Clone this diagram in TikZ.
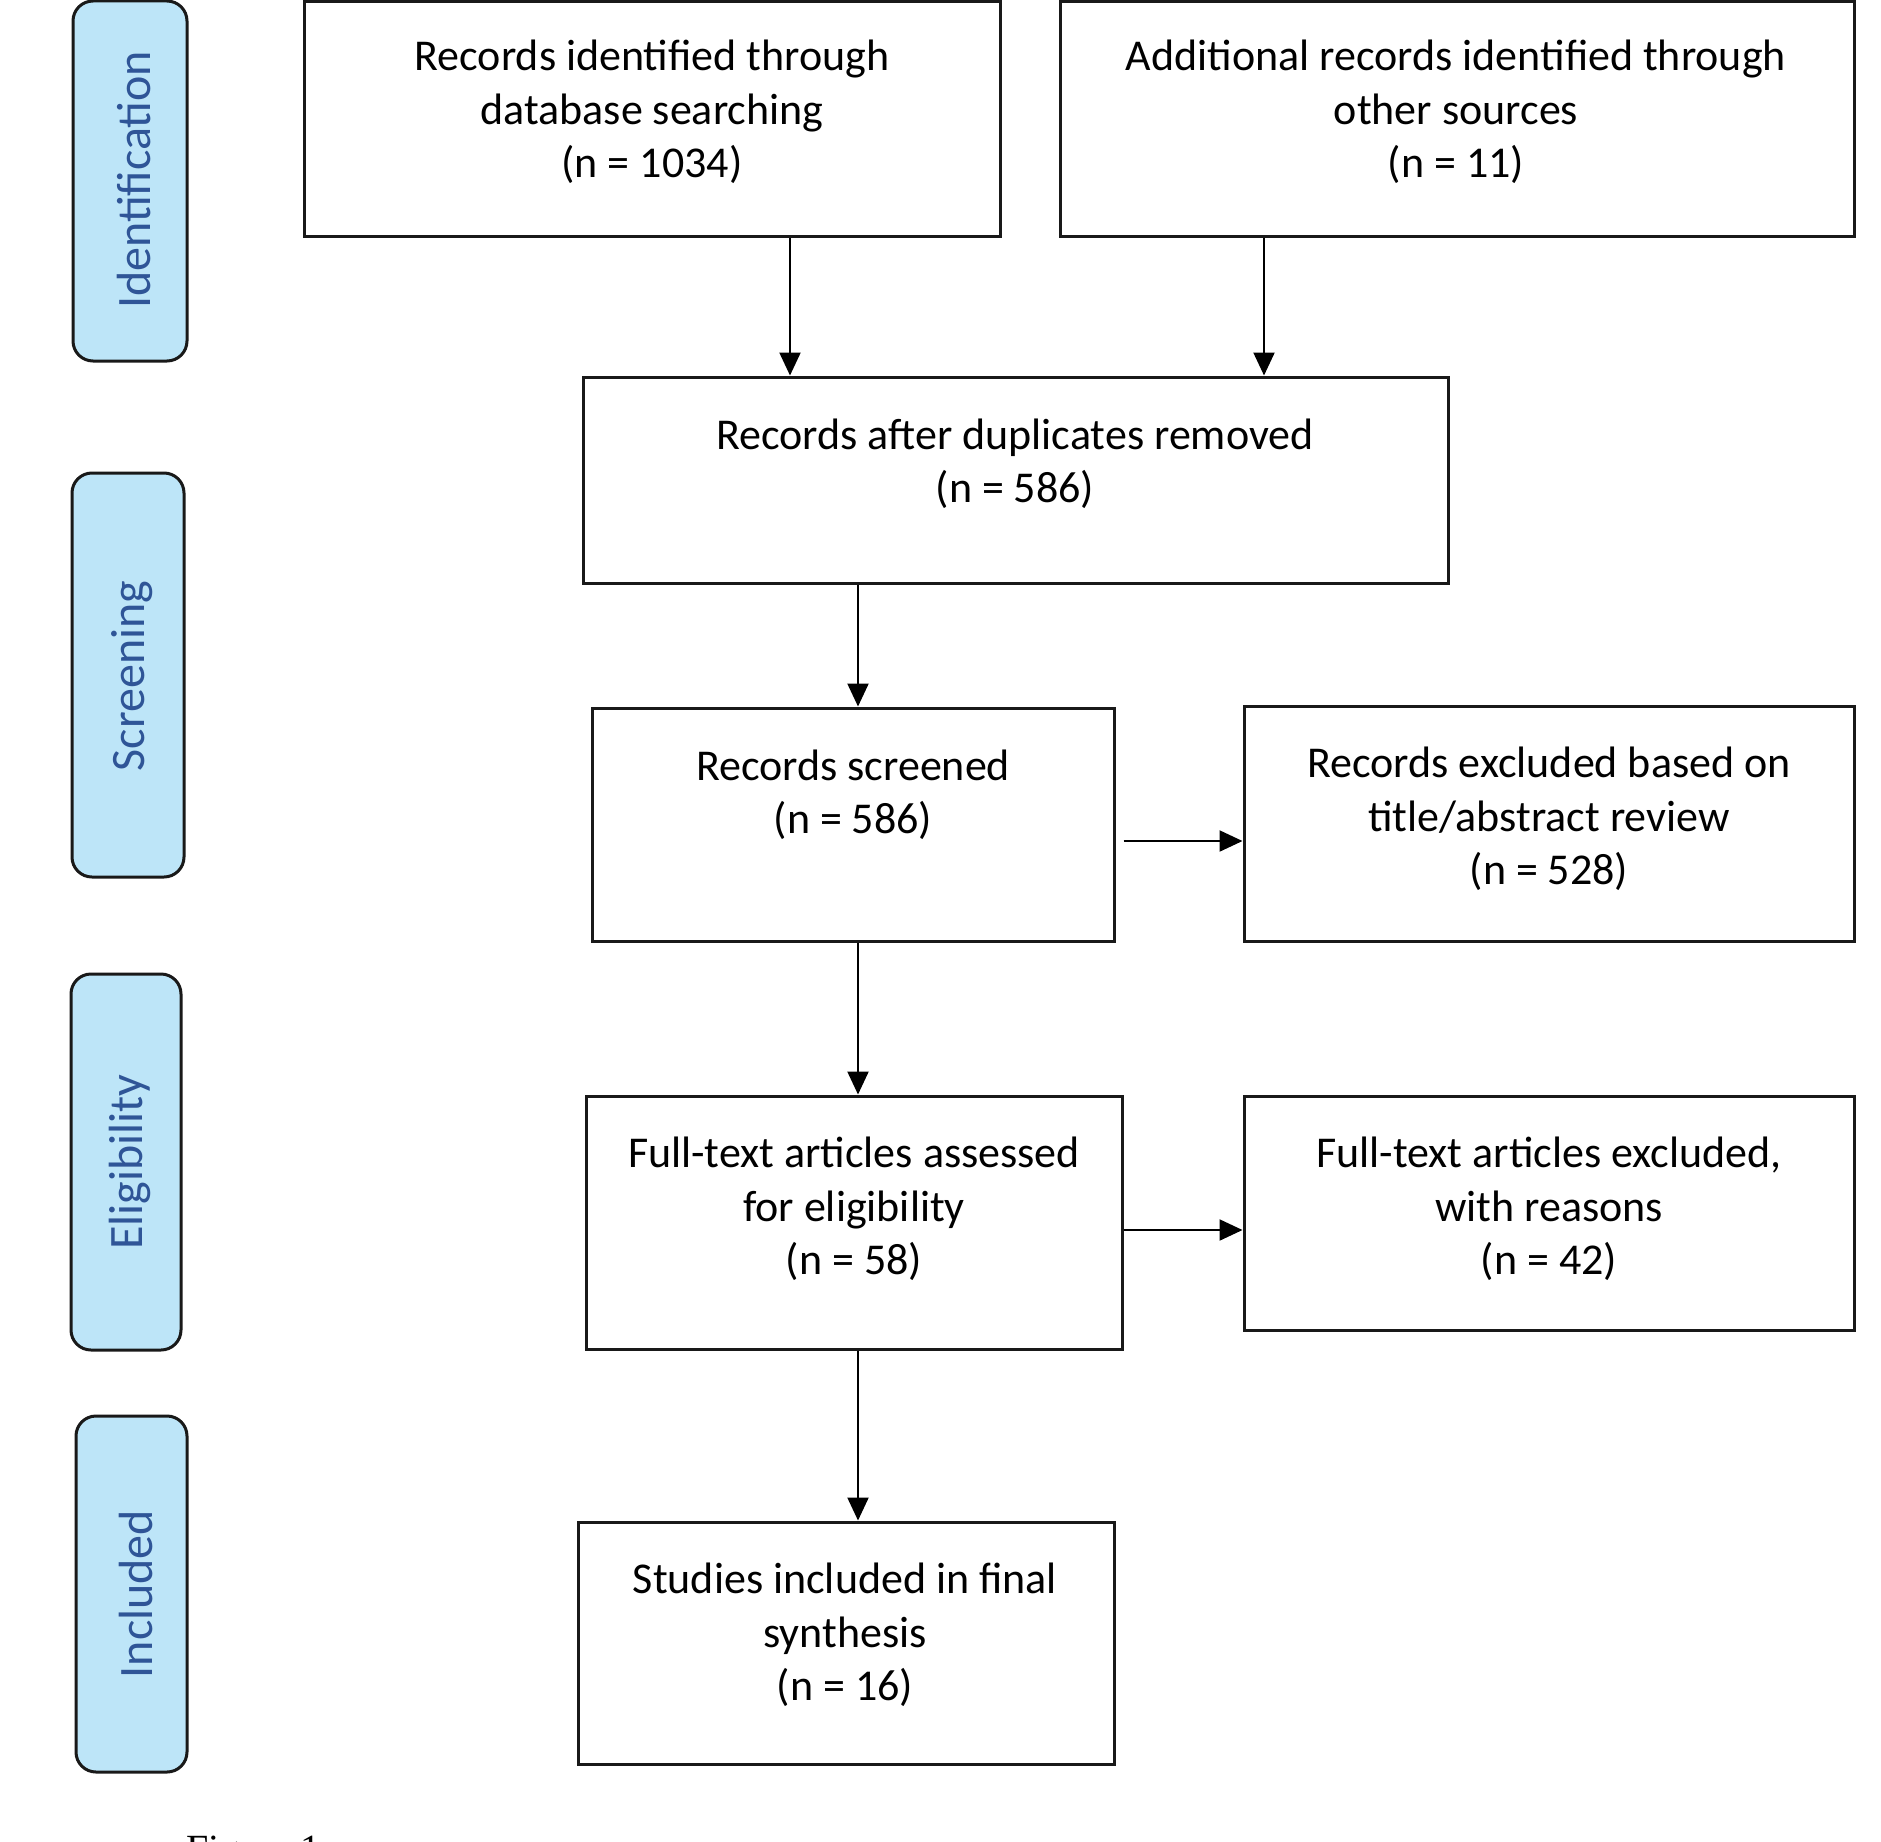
\documentclass[tikz,border=0pt]{standalone}
\usepackage{fontspec}
\setmainfont{Carlito}
\newfontfamily\capfont{Liberation Serif}
\usetikzlibrary{arrows.meta}
\definecolor{phasefill}{RGB}{189,229,248}
\definecolor{phaseblue}{RGB}{47,85,151}
\begin{document}
\begin{tikzpicture}[x=1pt,y=-1pt,
  box/.style={draw=black!90, line width=3pt, inner sep=0pt},
  txt/.style={align=center, font=\fontsize{44}{53.5}\selectfont, inner sep=0pt},
  phase/.style={draw=black!90, line width=3pt, fill=phasefill, rounded corners=20pt, inner sep=0pt},
  phasetxt/.style={rotate=90, text=phaseblue, font=\fontsize{48}{56}\selectfont, inner sep=0pt},
  arr/.style={line width=2.2pt, -{Triangle[length=23pt,width=21pt]}}]
\useasboundingbox (0,0) rectangle (1881,1841);
\clip (0,0) rectangle (1881,1841);
\fill[white] (0,0) rectangle (1881,1841);

% phase labels
\node[phase, minimum width=114pt, minimum height=360pt] (p1) at (130,181) {};
\node[phasetxt] (p1t) at (134,180) {Identification};
\node[phase, minimum width=112pt, minimum height=404pt] (p2) at (128,675) {};
\node[phasetxt] (p2t) at (132,676) {Screening};
\node[phase, minimum width=110pt, minimum height=376pt] (p3) at (126,1162) {};
\node[phasetxt] (p3t) at (130,1162) {Eligibility};
\node[phase, minimum width=111pt, minimum height=356pt] (p4) at (131.5,1594) {};
\node[phasetxt] (p4t) at (136,1594) {Included};

% boxes
\node[box, minimum width=696pt, minimum height=234pt] (b1) at (652,119) {};
\node[txt] (b1t) at (652,112) {Records identified through\\database searching\\(n = 1034)};
\node[box, minimum width=794pt, minimum height=234pt] (b2) at (1457,119) {};
\node[txt] (b2t) at (1456,112) {Additional records identified through\\other sources\\(n = 11)};
\node[box, minimum width=865pt, minimum height=206pt] (b3) at (1015.5,480) {};
\node[txt] (b3t) at (1015,464) {Records after duplicates removed\\(n = 586)};
\node[box, minimum width=522pt, minimum height=233pt] (b4) at (853,824.5) {};
\node[txt] (b4t) at (853,795) {Records screened\\(n = 586)};
\node[box, minimum width=610pt, minimum height=235pt] (b5) at (1549,823.5) {};
\node[txt] (b5t) at (1549,819) {Records excluded based on\\title/abstract review\\(n = 528)};
\node[box, minimum width=536pt, minimum height=253pt] (b6) at (854,1222.5) {};
\node[txt] (b6t) at (854,1209) {Full-text articles assessed\\for eligibility\\(n = 58)};
\node[box, minimum width=610pt, minimum height=234pt] (b7) at (1549,1213) {};
\node[txt] (b7t) at (1549,1209) {Full-text articles excluded,\\with reasons\\(n = 42)};
\node[box, minimum width=536pt, minimum height=242pt] (b8) at (846,1643) {};
\node[txt] (b8t) at (845,1635) {Studies included in final\\synthesis\\(n = 16)};

% connectors
\draw[arr] ([xshift=138pt]b1.south) -- ([xshift=138pt]b1.south |- b3.north);
\draw[arr] ([xshift=-193pt]b2.south) -- ([xshift=-193pt]b2.south |- b3.north);
\draw[arr] ([xshift=5pt]b4.north |- b3.south) -- ([xshift=5pt]b4.north);
\draw[arr] ([xshift=5pt]b4.south) -- ([xshift=5pt]b4.south |- b6.north);
\draw[arr] ([xshift=4pt]b6.south) -- ([xshift=4pt]b6.south |- b8.north);
\draw[arr] ([xshift=8pt,yshift=-16.5pt]b4.east) -- ([yshift=-16.5pt]b4.east -| b5.west);
\draw[arr] ([yshift=-7.5pt]b6.east) -- ([yshift=-7.5pt]b6.east -| b7.west);

% cut-off caption (cut by the lower edge, as in the reference)
\node[anchor=base west, inner sep=0pt, font=\capfont\fontsize{40}{48}\selectfont] (cap) at (186,1862) {Figure 1};
\end{tikzpicture}
\end{document}
